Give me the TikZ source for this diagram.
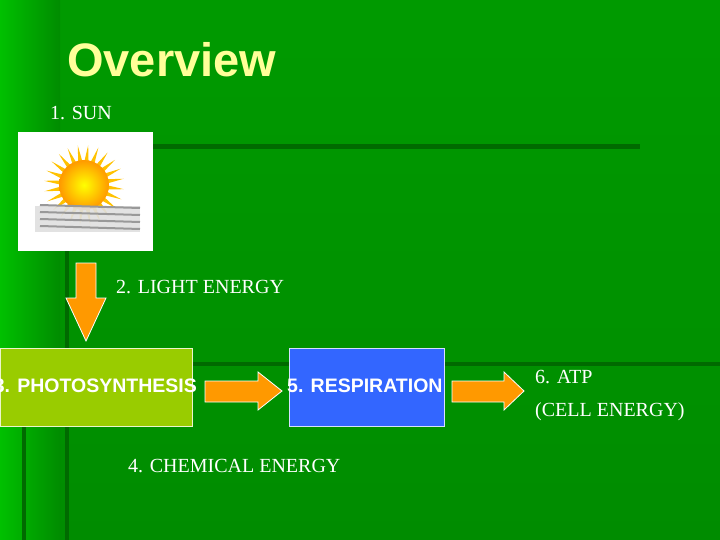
\documentclass[tikz,border=0pt]{standalone}
\usepackage{fontspec}
\setmainfont{Liberation Serif}
\setsansfont{Liberation Sans}
\usetikzlibrary{shapes.arrows,calc}
\definecolor{bgA}{HTML}{00C000}
\definecolor{bgB}{HTML}{008C00}
\definecolor{bgC}{HTML}{009A00}
\definecolor{dline}{HTML}{006A00}
\definecolor{ttl}{HTML}{FFFF99}
\definecolor{orng}{HTML}{FF9900}
\definecolor{lime}{HTML}{99CC00}
\definecolor{blu}{HTML}{3366FF}
\begin{document}
\begin{tikzpicture}[x=1pt,y=-1pt,
  lbl/.style={font=\fontsize{20}{24}\selectfont, text=white, inner sep=0pt},
  boxtxt/.style={font=\sffamily\bfseries\fontsize{19.5}{23}\selectfont, text=white, inner sep=0pt},
  arr/.style={fill=orng, draw=white, line width=0.8pt}]
\useasboundingbox (0,0) rectangle (720,540);
\shade[top color=bgC, bottom color=bgB] (0,0) rectangle (720,540);
\shade[left color=bgA, right color=bgB] (0,0) rectangle (60,540);
\fill[dline] (150,144) rectangle (640,149);
\fill[dline] (190,362) rectangle (720,366);
\fill[dline] (65,250) rectangle (69,540);
\fill[dline] (22,426) rectangle (26,540);
\node[font=\sffamily\bfseries\fontsize{47}{52}\selectfont, text=ttl, anchor=west, inner sep=0pt] (title) at (67,60) {Overview};
\node[lbl, anchor=west] (sun) at (50,113) {1. SUN};
% sun picture
\node[fill=white, minimum width=135pt, minimum height=119pt, inner sep=0pt, anchor=north west] (img) at (18,132) {};
\foreach \a in {0,15,...,345}{\fill[orng!60!yellow] ($(84,185)+(\a+180:22)$) -- ($(84,185)+(\a+186:40)$) -- ($(84,185)+(\a+192:22)$) -- cycle;}
\shade[inner color=yellow, outer color=orng] (84,185) circle (25);
\fill[white!75!gray, opacity=0.9] (35,206) rectangle (140,232);
\foreach \yy in {205,212,219,226}{\draw[gray!80, line width=2pt] (40,\yy) -- (140,\yy+3);}
\draw[arr] (76,263) -- (96,263) -- (96,298) -- (106,298) -- (86,341) -- (66,298) -- (76,298) -- cycle;
\node[lbl, anchor=west] (light) at (116,287) {2. LIGHT ENERGY};
\node[fill=lime, draw=white!80!lime, line width=0.8pt, minimum width=192pt, minimum height=78pt, anchor=north west, inner sep=0pt] (photo) at (0,348) {};
\node[boxtxt, anchor=east] at (197,386) {3. PHOTOSYNTHESIS};
\draw[arr] (205,381) -- (258,381) -- (258,372) -- (282,391) -- (258,410) -- (258,402) -- (205,402) -- cycle;
\node[fill=blu, draw=white!80!blu, line width=0.8pt, minimum width=155pt, minimum height=78pt, anchor=north west, inner sep=0pt] (resp) at (289,348) {};
\node[boxtxt, anchor=west] at (287,386) {5. RESPIRATION};
\draw[arr] (452,381) -- (504,381) -- (504,372) -- (524,391) -- (504,410) -- (504,402) -- (452,402) -- cycle;
\node[lbl, anchor=west] (atp) at (535,377) {6. ATP};
\node[lbl, anchor=west] (cell) at (535,412) {(CELL ENERGY)};
\node[lbl, anchor=west] (chem) at (128,466) {4. CHEMICAL ENERGY};
\end{tikzpicture}
\end{document}
